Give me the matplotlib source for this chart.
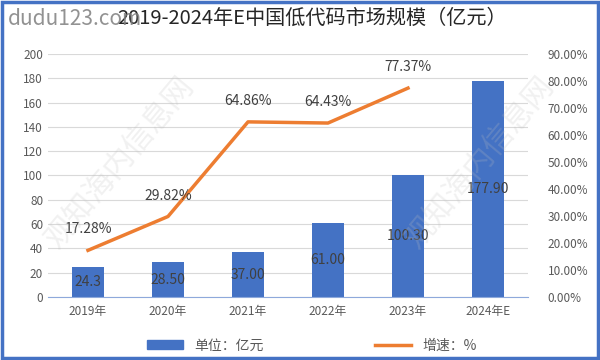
import numpy as np
import matplotlib
matplotlib.use("Agg")
import matplotlib.pyplot as plt
from matplotlib.patches import Rectangle
from matplotlib.lines import Line2D

plt.rcParams['font.family'] = ['Noto Sans CJK SC', 'DejaVu Sans']

# data
years = ["2019年", "2020年", "2021年", "2022年", "2023年", "2024年E"]
market = [24.3, 28.5, 37.0, 61.0, 100.3, 177.9]
market_labels = ["24.3", "28.50", "37.00", "61.00", "100.30", "177.90"]
growth = [17.28, 29.82, 64.86, 64.43, 77.37]   # no growth value for 2024E

bar_color = "#4472C4"
line_color = "#ED7D31"
txt = "#595959"

fig = plt.figure(figsize=(6, 3.6), dpi=100)
ax = fig.add_axes([0.08, 0.175, 0.80, 0.675])
x = np.arange(len(years))

ax.bar(x, market, width=0.39, color=bar_color, zorder=2)
for xi, v, lab in zip(x, market, market_labels):
    ax.text(xi, v / 2, lab, ha="center", va="center", fontsize=10, color="#404040", zorder=4)

ax.set_ylim(0, 200)
ax.set_yticks(np.arange(0, 201, 20))
ax.set_xlim(-0.5, len(years) - 0.5)
ax.set_xticks(x)
ax.set_xticklabels(years)
ax.grid(axis="y", color="#D9D9D9", linewidth=0.8, zorder=0)
ax.tick_params(axis="both", length=0, labelsize=8.5, colors=txt)
ax.tick_params(axis="x", pad=6)
for s in ["top", "left", "right"]:
    ax.spines[s].set_visible(False)
ax.spines["bottom"].set_color("#8EA9DB")

# growth rate on the right axis
ax2 = ax.twinx()
gx = x[:len(growth)]
ax2.plot(gx, growth, color=line_color, linewidth=2.5, zorder=3)
for xi, g in zip(gx, growth):
    ax2.annotate(f"{g:.2f}%", (xi, g), xytext=(0, 10), textcoords="offset points",
                 ha="center", va="bottom", fontsize=10, color="#404040")
ax2.set_ylim(0, 90)
ax2.set_yticks(np.arange(0, 91, 10))
ax2.set_yticklabels([f"{v:.2f}%" for v in np.arange(0, 91, 10)])
ax2.tick_params(axis="y", length=0, labelsize=8.5, colors=txt, pad=14)
for s in ["top", "left", "right", "bottom"]:
    ax2.spines[s].set_visible(False)

# title with the site watermark lying over it
fig.text(0.52, 0.948, "2019-2024年E中国低代码市场规模（亿元）", ha="center", va="center",
         fontsize=14.5, color="#262626")
fig.text(0.013, 0.948, "dudu123.com", ha="left", va="center", fontsize=15, color="#7F7F7F", alpha=0.85)

# diagonal watermarks, kept faint
for wx, wy in [(0.20, 0.55), (0.80, 0.55)]:
    fig.text(wx, wy, "观知海内信息网", ha="center", va="center", rotation=50,
             fontsize=22, color="#BFBFBF", alpha=0.22, zorder=1)

# legend
handles = [Rectangle((0, 0), 1, 1, color=bar_color),
           Line2D([0], [0], color=line_color, linewidth=2.5)]
fig.legend(handles, ["单位：亿元", "增速：%"], loc="center", bbox_to_anchor=(0.52, 0.04),
           ncol=2, frameon=False, fontsize=10, labelcolor=txt, columnspacing=8,
           handlelength=2.6, handleheight=0.6)

# blue frame around the picture
fig.patches.append(Rectangle((0.003, 0.005), 0.994, 0.99, transform=fig.transFigure,
                             fill=False, edgecolor="#4472C4", linewidth=2.5))

fig.savefig("out.png", dpi=100)
